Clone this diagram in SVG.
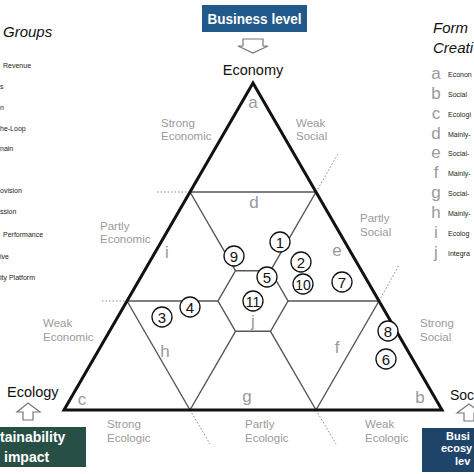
<svg xmlns="http://www.w3.org/2000/svg" width="474" height="474" viewBox="0 0 474 474">
<style>
.lbl{font-family:"Liberation Sans",Arial,sans-serif;font-size:11.5px;fill:#9a9a9a}
.let{font-family:"Liberation Sans",Arial,sans-serif;font-size:17px;fill:#9a9a9a;text-anchor:middle}
.num{font-family:"Liberation Sans",Arial,sans-serif;font-size:15px;fill:#111;text-anchor:middle}
.sm{font-family:"Liberation Sans",Arial,sans-serif;font-size:7px;fill:#1a1a1a}
.ttl{font-family:"Liberation Sans",Arial,sans-serif;font-size:15px;fill:#111;font-style:italic}
.big{font-family:"Liberation Sans",Arial,sans-serif;font-size:14.5px;fill:#111}
.box{font-family:"Liberation Sans",Arial,sans-serif;font-weight:bold;fill:#fff}
.inner{stroke:#555;stroke-width:1.4;fill:none}
.dot{stroke:#888;stroke-width:1;stroke-dasharray:1.5 2;fill:none}
.circ{fill:#fff;stroke:#111;stroke-width:1.3}
.arr{fill:#fff;stroke:#777;stroke-width:1.2}
</style>

<g id="connectors">
  <line class="dot" x1="157" y1="192" x2="190" y2="192"/>
  <line class="dot" x1="102" y1="301" x2="127" y2="301"/>
  <line class="dot" x1="316" y1="192" x2="338" y2="154"/>
  <line class="dot" x1="379" y1="301" x2="399" y2="265"/>
  <line class="dot" x1="190" y1="410" x2="210" y2="444"/>
  <line class="dot" x1="316" y1="410" x2="336" y2="444"/>
  <line class="inner" x1="190" y1="192" x2="316" y2="192"/>
  <line class="inner" x1="190" y1="192" x2="235.5" y2="270.7"/>
  <line class="inner" x1="316" y1="192" x2="270.5" y2="270.7"/>
  <line class="inner" x1="127" y1="301" x2="218" y2="301"/>
  <line class="inner" x1="288" y1="301" x2="379" y2="301"/>
  <line class="inner" x1="127" y1="301" x2="190" y2="410"/>
  <line class="inner" x1="190" y1="410" x2="235.5" y2="331.3"/>
  <line class="inner" x1="316" y1="410" x2="270.5" y2="331.3"/>
  <line class="inner" x1="316" y1="410" x2="379" y2="301"/>
  <polygon class="inner" points="235.5,270.7 270.5,270.7 288,301 270.5,331.3 235.5,331.3 218,301"/>
  <polygon points="253,83 64,410 442,410" fill="none" stroke="#111" stroke-width="3" stroke-linejoin="miter"/>
</g>

<g id="region-labels">
  <text class="lbl" x="161" y="127">Strong</text><text class="lbl" x="161" y="140">Economic</text>
  <text class="lbl" x="296" y="127">Weak</text><text class="lbl" x="296" y="140">Social</text>
  <text class="lbl" x="100" y="230">Partly</text><text class="lbl" x="100" y="243">Economic</text>
  <text class="lbl" x="360" y="222">Partly</text><text class="lbl" x="360" y="236">Social</text>
  <text class="lbl" x="43" y="327">Weak</text><text class="lbl" x="43" y="341">Economic</text>
  <text class="lbl" x="420" y="327">Strong</text><text class="lbl" x="420" y="341">Social</text>
  <text class="lbl" x="107" y="428">Strong</text><text class="lbl" x="107" y="442">Ecologic</text>
  <text class="lbl" x="245" y="428">Partly</text><text class="lbl" x="245" y="442">Ecologic</text>
  <text class="lbl" x="365" y="428">Weak</text><text class="lbl" x="365" y="442">Ecologic</text>
</g>

<g id="area-letters">
  <text class="let" x="253" y="108">a</text>
  <text class="let" x="254" y="208">d</text>
  <text class="let" x="167" y="258">i</text>
  <text class="let" x="337" y="256">e</text>
  <text class="let" x="165" y="357">h</text>
  <text class="let" x="337" y="353">f</text>
  <text class="let" x="82" y="405">c</text>
  <text class="let" x="420" y="403">b</text>
  <text class="let" x="247" y="402">g</text>
  <text class="let" x="253" y="327">j</text>
</g>

<g id="n1"><circle class="circ" cx="280" cy="242" r="10"/><text class="num" x="280" y="247.5">1</text></g>
<g id="n2"><circle class="circ" cx="301" cy="262" r="10"/><text class="num" x="301" y="267.5">2</text></g>
<g id="n3"><circle class="circ" cx="162" cy="317" r="10"/><text class="num" x="162" y="322.5">3</text></g>
<g id="n4"><circle class="circ" cx="190" cy="307" r="10"/><text class="num" x="190" y="312.5">4</text></g>
<g id="n5"><circle class="circ" cx="267" cy="277" r="10"/><text class="num" x="267" y="282.5">5</text></g>
<g id="n6"><circle class="circ" cx="386" cy="359" r="10"/><text class="num" x="386" y="364.5">6</text></g>
<g id="n7"><circle class="circ" cx="342" cy="282" r="10"/><text class="num" x="342" y="287.5">7</text></g>
<g id="n8"><circle class="circ" cx="388" cy="331" r="10"/><text class="num" x="388" y="336.5">8</text></g>
<g id="n9"><circle class="circ" cx="234" cy="256" r="10"/><text class="num" x="234" y="261.5">9</text></g>
<g id="n10"><circle class="circ" cx="303" cy="284" r="10"/><text class="num" x="303" y="289.5" style="font-size:14px">10</text></g>
<g id="n11"><circle class="circ" cx="253" cy="301" r="10"/><text class="num" x="253" y="306.5" style="font-size:14px">11</text></g>

<g id="business-level">
  <rect x="202" y="5" width="105" height="27" fill="#21598a"/>
  <text class="box" x="254.5" y="23.5" font-size="14" text-anchor="middle" textLength="94" lengthAdjust="spacingAndGlyphs">Business level</text>
  <polygon class="arr" points="243,39 263,39 263,46 268,46 253,53 238,46 243,46"/>
  <text class="big" x="253" y="75" text-anchor="middle">Economy</text>
</g>

<g id="ecology">
  <text class="big" x="7" y="397">Ecology</text>
  <polygon class="arr" points="28,403 40,412 33,412 33,420 23,420 23,412 17,412"/>
  <rect x="0" y="427" width="86" height="40" fill="#274f45"/>
  <text class="box" x="0" y="442" font-size="14">tainability</text>
  <text class="box" x="4" y="462" font-size="14">impact</text>
</g>

<g id="society">
  <text class="big" x="450" y="400" style="font-size:14px">Soc</text>
  <polygon class="arr" points="469,404 481,413 474,413 474,421 464,421 464,413 457,413"/>
  <rect x="422" y="428" width="52" height="44" fill="#1e4569"/>
  <text class="box" x="446" y="439.5" font-size="11">Busi</text>
  <text class="box" x="441" y="452" font-size="11">ecosy</text>
  <text class="box" x="455" y="464.5" font-size="11">lev</text>
</g>

<g id="groups-legend">
  <text class="ttl" x="3" y="37">Groups</text>
  <text class="sm" x="3" y="67.5">Revenue</text>
  <text class="sm" x="0" y="89">s</text>
  <text class="sm" x="0" y="109.5">n</text>
  <text class="sm" x="0" y="130.5">he-Loop</text>
  <text class="sm" x="0" y="150.5">nain</text>
  <text class="sm" x="0" y="192.5">ovision</text>
  <text class="sm" x="0" y="213.5">ssion</text>
  <text class="sm" x="3" y="236.5">Performance</text>
  <text class="sm" x="0" y="258.5">ive</text>
  <text class="sm" x="0" y="279.5">ity Platform</text>
</g>

<g id="form-legend">
  <text class="ttl" x="433" y="33">Form</text>
  <text class="ttl" x="433" y="53">Creati</text>
  <text class="let" x="436" y="79">a</text><text class="sm" x="448" y="76.5">Econon</text>
  <text class="let" x="436" y="99">b</text><text class="sm" x="448" y="96.5">Social</text>
  <text class="let" x="436" y="119">c</text><text class="sm" x="448" y="116.5">Ecologi</text>
  <text class="let" x="436" y="139">d</text><text class="sm" x="448" y="136.5">Mainly-</text>
  <text class="let" x="436" y="158">e</text><text class="sm" x="448" y="155.5">Social-</text>
  <text class="let" x="436" y="178">f</text><text class="sm" x="448" y="175.5">Mainly-</text>
  <text class="let" x="436" y="198">g</text><text class="sm" x="448" y="195.5">Social-</text>
  <text class="let" x="436" y="218">h</text><text class="sm" x="448" y="215.5">Mainly-</text>
  <text class="let" x="436" y="238">i</text><text class="sm" x="448" y="235.5">Ecolog</text>
  <text class="let" x="436" y="258">j</text><text class="sm" x="448" y="255.5">Integra</text>
</g>
</svg>
